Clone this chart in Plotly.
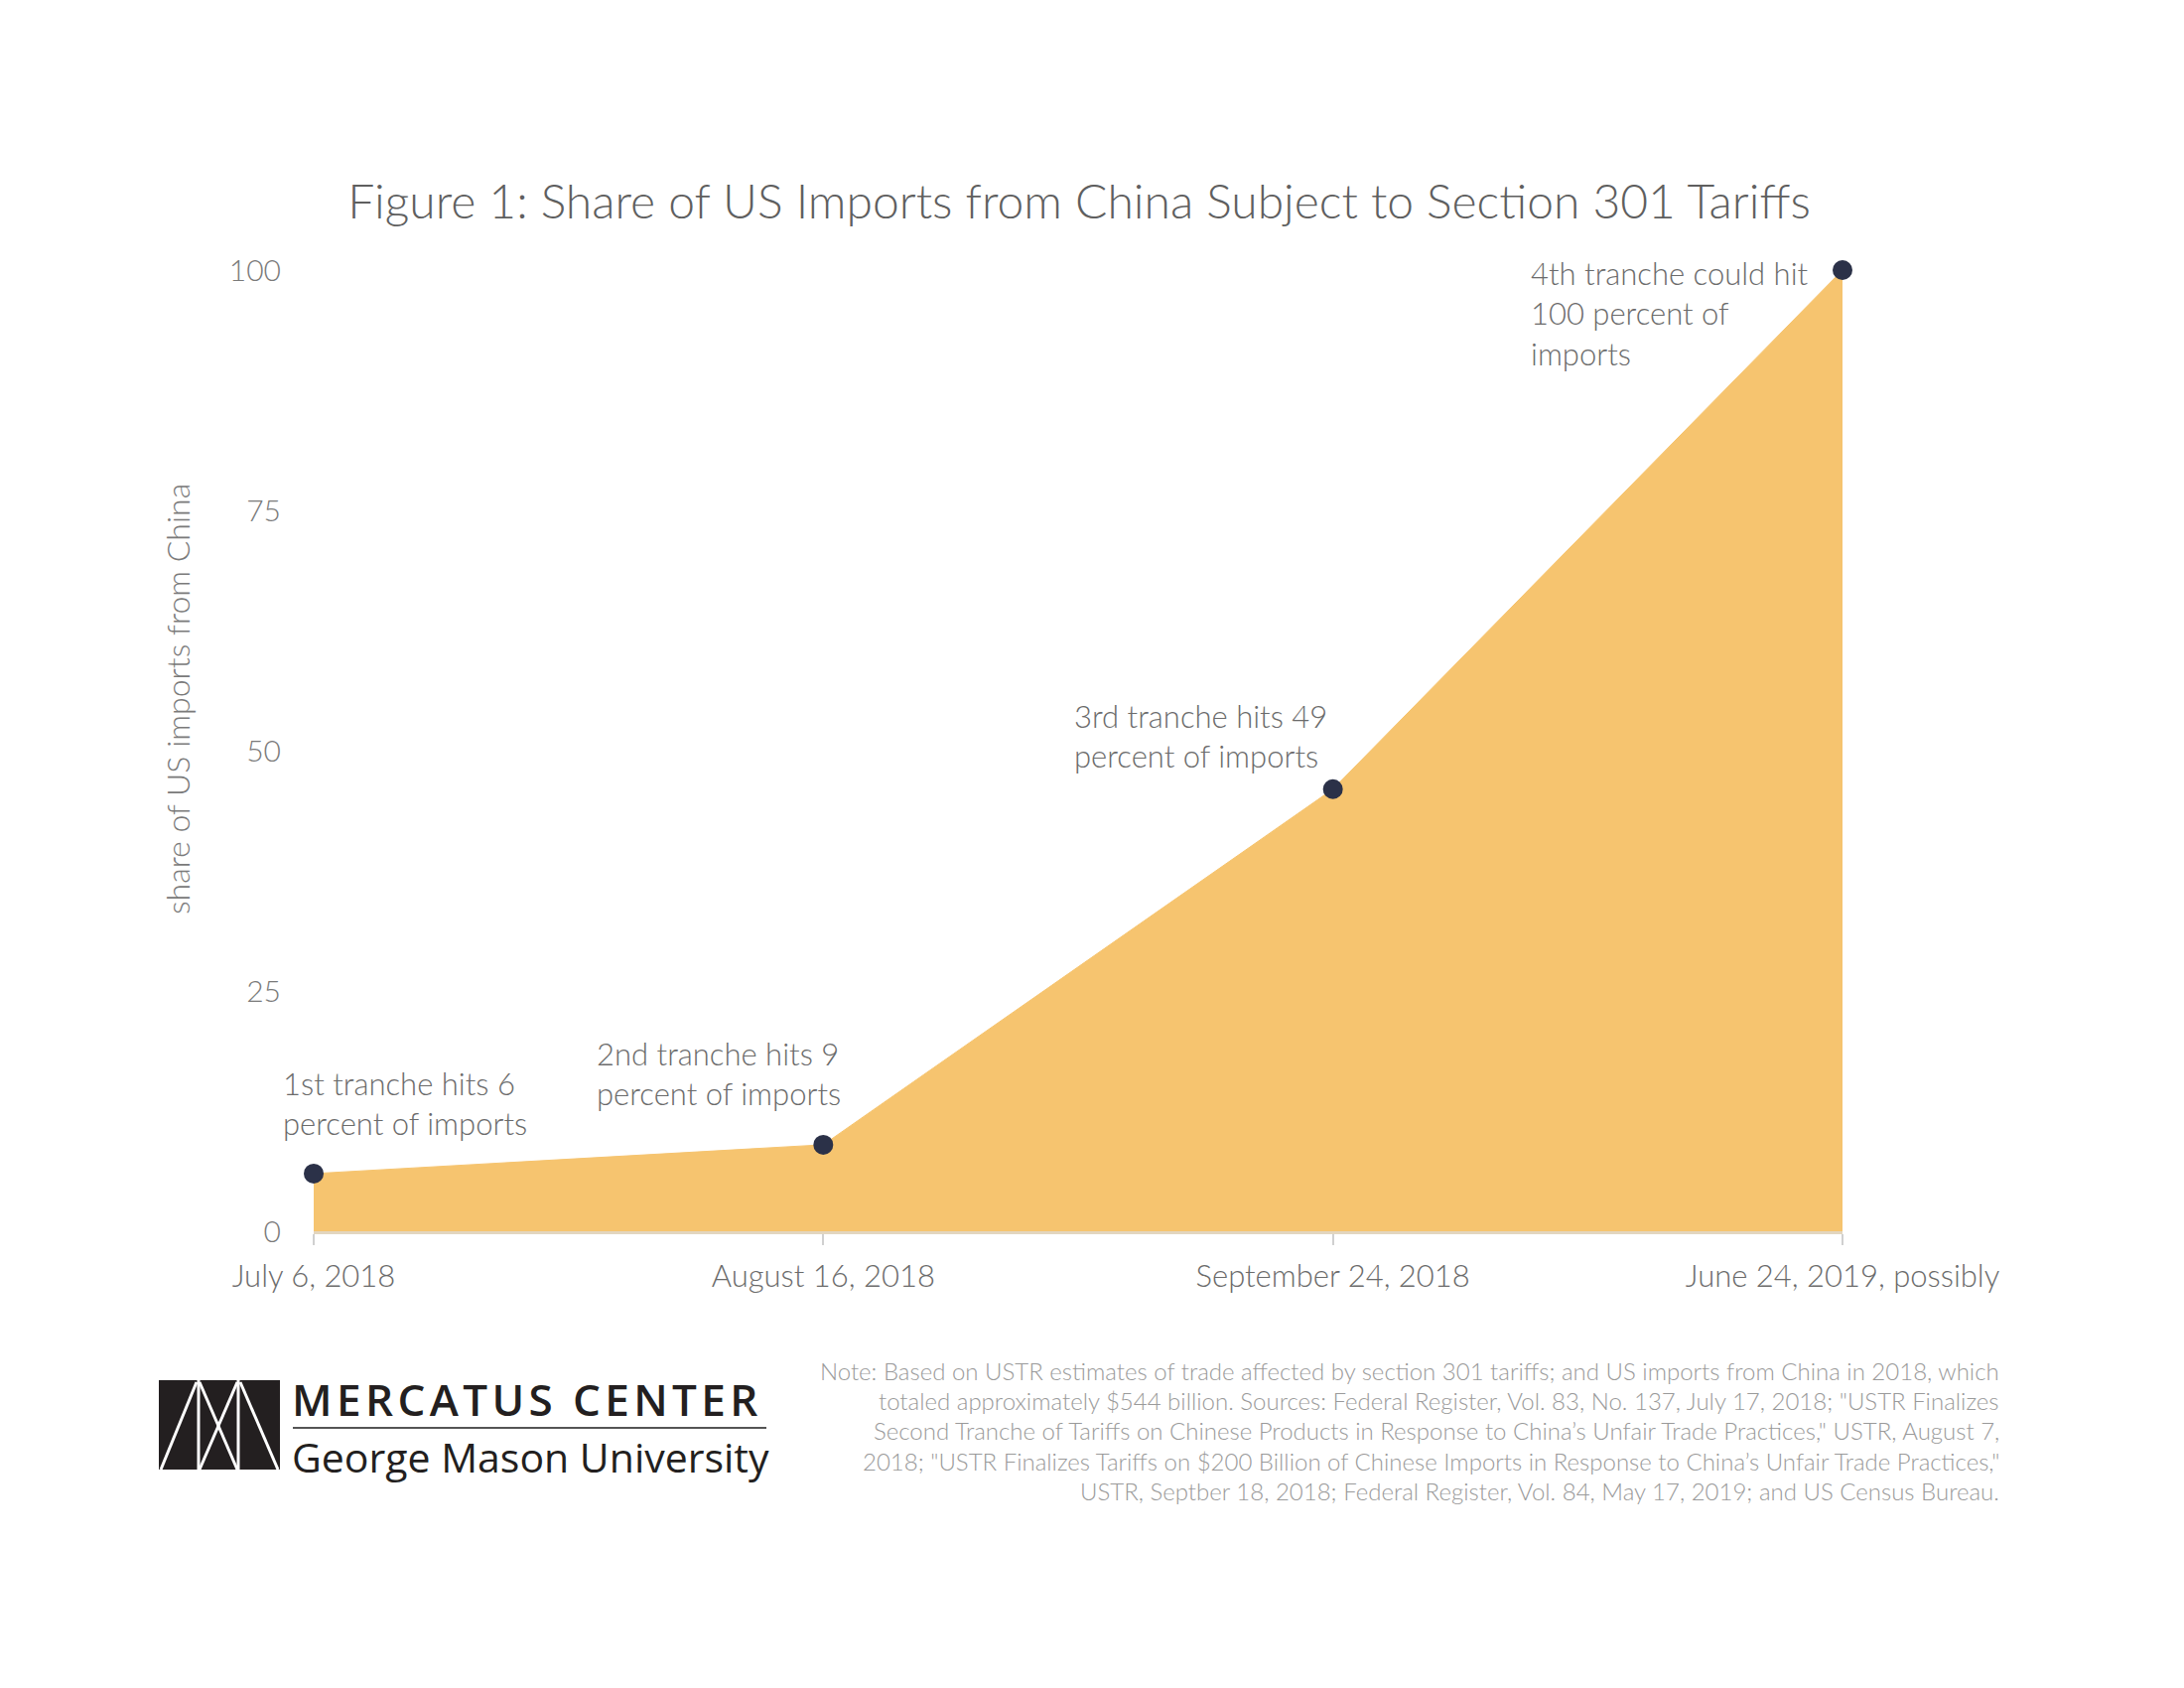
import plotly.graph_objects as go

# chart data
dates = ["July 6, 2018", "August 16, 2018", "September 24, 2018", "June 24, 2019, possibly"]
share = [6, 9, 46, 100]
y_ticks = [0, 25, 50, 75, 100]
notes = [
    "1st tranche hits 6<br>percent of imports",
    "2nd tranche hits 9<br>percent of imports",
    "3rd tranche hits 49<br>percent of imports",
    "4th tranche could hit<br>100 percent of<br>imports",
]
note_lines = [
    "Note: Based on USTR estimates of trade affected by section 301 tariffs; and US imports from China in 2018, which",
    "totaled approximately $544 billion. Sources: Federal Register, Vol. 83, No. 137, July 17, 2018; \"USTR Finalizes",
    "Second Tranche of Tariffs on Chinese Products in Response to China’s Unfair Trade Practices,\" USTR, August 7,",
    "2018; \"USTR Finalizes Tariffs on $200 Billion of Chinese Imports in Response to China’s Unfair Trade Practices,\"",
    "USTR, Septber 18, 2018; Federal Register, Vol. 84, May 17, 2019; and US Census Bureau.",
]

W, H = 2200, 1700
OFF = 8  # page body margin in the browser
# plot area in page pixels
X0, X1, Y0, Y1 = 316, 1856, 272, 1240
L, R, T, B = X0 - OFF, W - X1 + OFF, Y0 - OFF, H - Y1 + OFF


def px(x):
    # page pixel -> paper x
    return (x - X0) / (X1 - X0)


def py(y):
    # page pixel -> paper y
    return (Y1 - y) / (Y1 - Y0)


FONT = "Lato"
TEXT = "#6b6b6b"

fig = go.Figure()

fig.add_trace(go.Scatter(
    x=dates,
    y=share,
    mode="lines+markers",
    fill="tozeroy",
    fillcolor="#F6C46F",
    line=dict(color="#F6C46F", width=1),
    marker=dict(size=20, color="#2B3148"),
    cliponaxis=False,
    hoverinfo="x+y",
))

# annotation offsets relative to each point (pixels)
shifts = [(-33, 30, "bottom"), (-230, 31, "bottom"), (-263, 13, "bottom"), (-316, 18, "top")]
for d, v, txt, (dx, dy, ya) in zip(dates, share, notes, shifts):
    fig.add_annotation(
        x=d, y=v, text=txt, showarrow=False,
        xanchor="left", yanchor=ya, align="left",
        xshift=dx, yshift=dy,
        font=dict(family=FONT, size=31, color=TEXT, weight=300),
    )

# y axis title
fig.add_annotation(xref="paper", yref="paper", x=px(178), y=py(704),
                   text="share of US imports from China", showarrow=False, textangle=-90,
                   xanchor="center", yanchor="middle",
                   font=dict(family=FONT, size=32, color="#7a7a7a", weight=300))

# logo
fig.add_shape(type="rect", xref="paper", yref="paper",
              x0=px(160), x1=px(282), y0=py(1480), y1=py(1390),
              fillcolor="#231F20", line=dict(width=0))
logo_lines = [
    (200, 1390, 200, 1480), (240, 1390, 240, 1480),
    (162, 1480, 198, 1392), (201, 1392, 239, 1480),
    (239, 1392, 201, 1480), (242, 1392, 280, 1480),
]
for x0, y0, x1, y1 in logo_lines:
    fig.add_shape(type="line", xref="paper", yref="paper",
                  x0=px(x0), y0=py(y0), x1=px(x1), y1=py(y1),
                  line=dict(color="white", width=3))
fig.add_shape(type="line", xref="paper", yref="paper",
              x0=px(295), x1=px(772), y0=py(1438), y1=py(1438),
              line=dict(color="#555555", width=2))
fig.add_annotation(xref="paper", yref="paper", x=px(292), y=py(1409),
                   text="\u200a".join("MERCATUS CENTER"), showarrow=False,
                   xanchor="left", yanchor="middle",
                   font=dict(family="Open Sans", size=44, color="#231F20", weight=600))
fig.add_annotation(xref="paper", yref="paper", x=px(292), y=py(1467),
                   text="George Mason University", showarrow=False,
                   xanchor="left", yanchor="middle",
                   font=dict(family="Open Sans", size=41, color="#231F20"))

# source note, one annotation per line
for i, line in enumerate(note_lines):
    fig.add_annotation(xref="paper", yref="paper", x=px(2016), y=py(1380 + 30.4 * i),
                       text=line, showarrow=False, xanchor="right", yanchor="middle",
                       font=dict(family=FONT, size=24, color="#9a9a9a", weight=300))

fig.update_layout(
    width=W, height=H,
    margin=dict(l=L, r=R, t=T, b=B),
    paper_bgcolor="white", plot_bgcolor="white",
    showlegend=False,
    title=dict(
        text="Figure 1: Share of US Imports from China Subject to Section 301 Tariffs",
        x=(1087 - OFF) / W, xanchor="center", y=1 - (203 - OFF) / H, yanchor="middle",
        yref="container",
        font=dict(family=FONT, size=48, color="#5f5f5f", weight=300),
    ),
    xaxis=dict(
        type="category", range=[0, 3],
        showline=True, linecolor="#E2D6BF", linewidth=3,
        ticks="outside", ticklen=11, tickwidth=2, tickcolor="#d0d0d0",
        ticklabelstandoff=5,
        showgrid=False, zeroline=False,
        tickfont=dict(family=FONT, size=31, color=TEXT, weight=300),
    ),
    yaxis=dict(
        range=[0, 100], tickvals=y_ticks,
        showgrid=False, zeroline=False, showline=False, ticks="",
        ticklabelstandoff=32,
        tickfont=dict(family=FONT, size=30, color="#7a7a7a", weight=300),
    ),
)

fig.write_html("out.html")
